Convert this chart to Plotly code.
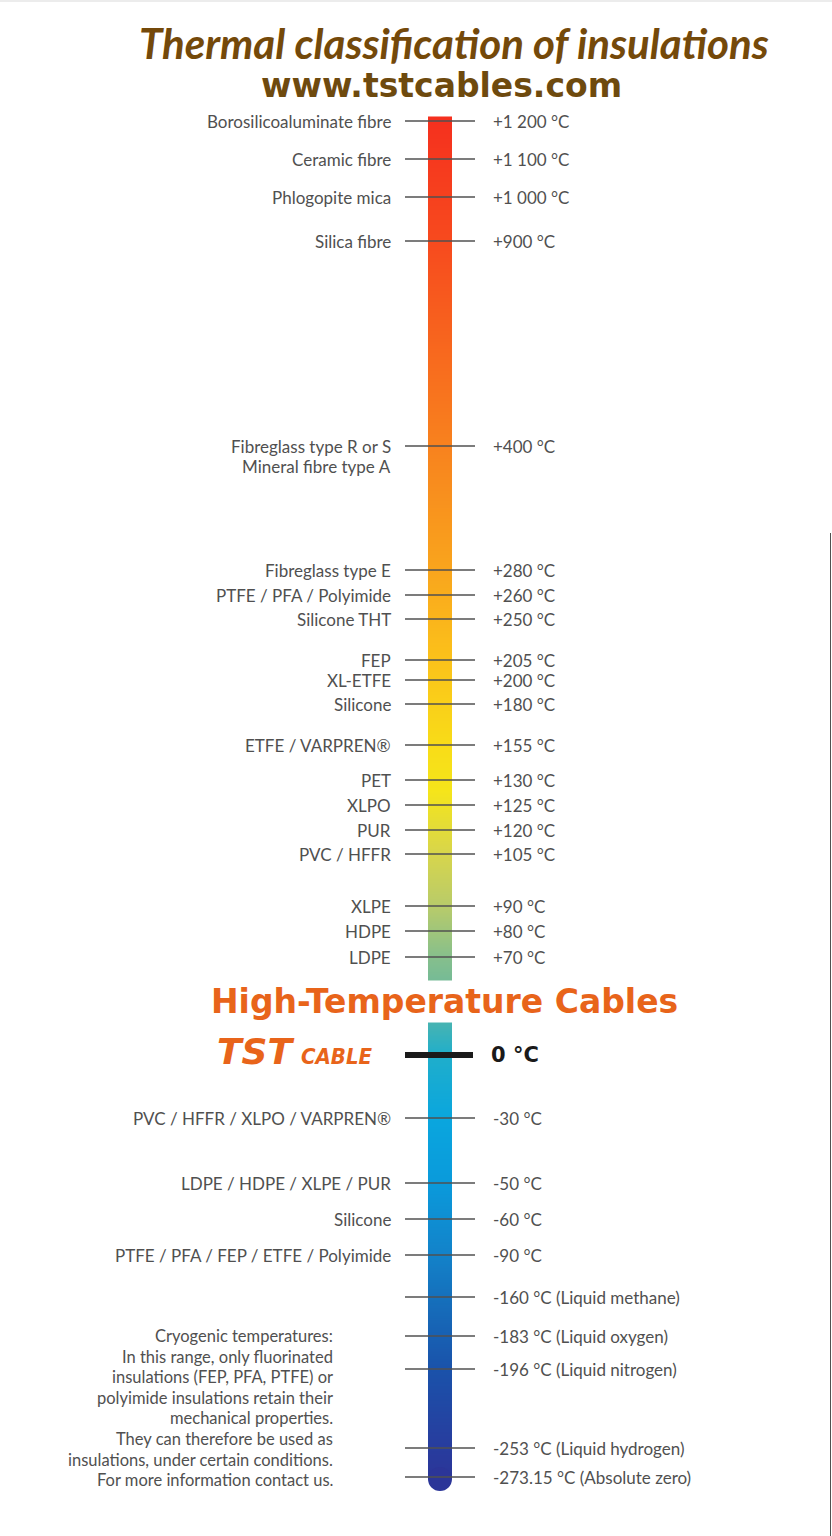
import plotly.graph_objects as go

# Chart values (schematic, so rows are not spaced by temperature)
temps = ["+1 200 °C", "+1 100 °C", "+1 000 °C", "+900 °C", "+400 °C",
         "+280 °C", "+260 °C", "+250 °C", "+205 °C", "+200 °C", "+180 °C",
         "+155 °C", "+130 °C", "+125 °C", "+120 °C", "+105 °C",
         "+90 °C", "+80 °C", "+70 °C",
         "-30 °C", "-50 °C", "-60 °C", "-90 °C",
         "-160 °C (Liquid methane)", "-183 °C (Liquid oxygen)",
         "-196 °C (Liquid nitrogen)", "-253 °C (Liquid hydrogen)",
         "-273.15 °C (Absolute zero)"]
materials = ["Borosilicoaluminate fibre", "Ceramic fibre", "Phlogopite mica", "Silica fibre",
             "Fibreglass type R or S<br>Mineral fibre type A",
             "Fibreglass type E", "PTFE / PFA / Polyimide", "Silicone THT", "FEP", "XL-ETFE",
             "Silicone", "ETFE / VARPREN®", "PET", "XLPO", "PUR", "PVC / HFFR",
             "XLPE", "HDPE", "LDPE",
             "PVC / HFFR / XLPO / VARPREN®", "LDPE / HDPE / XLPE / PUR", "Silicone",
             "PTFE / PFA / FEP / ETFE / Polyimide",
             "", "", "", "", ""]
row_y = [121, 159, 197, 241, 446,
         570, 595, 619, 660, 680, 704,
         745, 780, 805, 830, 854,
         906, 931, 957,
         1118, 1183, 1219, 1255,
         1297, 1336, 1369, 1448, 1477]
zero_label = "0 °C"
zero_y = 1055
cryo_note = ["Cryogenic temperatures:",
             "In this range, only fluorinated",
             "insulations (FEP, PFA, PTFE) or",
             "polyimide insulations retain their",
             "mechanical properties.",
             "They can therefore be used as",
             "insulations, under certain conditions.",
             "For more information contact us."]

W, H = 832, 1536
BAR_X, BAR_W = 440, 24
BAR_TOP, BAR_BOT = 117, 1479
GREY = "#505050"

# gradient of the thermometer bar: (row, colour)
grad = [(117, "#f5301e"), (241, "#f74a1e"), (446, "#f8821e"), (570, "#f9a51d"),
        (660, "#fbc21a"), (745, "#f8dc18"), (790, "#f5e51a"), (854, "#d7d54c"),
        (906, "#b8cb6a"), (957, "#86bf8c"), (985, "#72ba98"), (1020, "#4ab4b0"),
        (1055, "#1faecb"), (1118, "#0aa6de"), (1183, "#0a9adb"), (1255, "#1382c9"),
        (1297, "#1570bc"), (1369, "#1a52aa"), (1448, "#283c9e"), (1479, "#2b3598")]
colorscale = [[(r - BAR_TOP) / (BAR_BOT - BAR_TOP), c] for r, c in grad]

n = BAR_BOT - BAR_TOP + 1
fig = go.Figure(go.Heatmap(
    z=[[i / (n - 1)] for i in range(n)],
    x0=BAR_X, dx=BAR_W, y0=BAR_TOP, dy=1,
    colorscale=colorscale, showscale=False, hoverinfo="skip", zmin=0, zmax=1))

# rounded bottom of the bar
fig.add_shape(type="circle", x0=BAR_X - BAR_W / 2, x1=BAR_X + BAR_W / 2,
              y0=BAR_BOT - 12, y1=BAR_BOT + 12, fillcolor="#2b3598", line_width=0)

label_font = dict(family="Lato", size=17, color=GREY)

for t, m, y in zip(temps, materials, row_y):
    fig.add_shape(type="line", x0=405, x1=475, y0=y, y1=y,
                  line=dict(color=GREY, width=1.5))
    fig.add_annotation(x=491, y=y, text=t, showarrow=False, xanchor="left",
                       yanchor="middle", font=label_font)
    for k, part in enumerate(m.split("<br>")):
        if part:
            fig.add_annotation(x=393, y=y + k * 20, text=part, showarrow=False,
                               xanchor="right", yanchor="middle", font=label_font)

# 0 °C marker
fig.add_shape(type="line", x0=405, x1=473, y0=zero_y, y1=zero_y,
              line=dict(color="#1a1a1a", width=6))
fig.add_annotation(x=489, y=zero_y, text="<b>" + zero_label + "</b>", showarrow=False,
                   xanchor="left", yanchor="middle",
                   font=dict(family="DejaVu Sans", size=21, color="#1a1a1a"))

# cryogenic note, one line at a time
for k, line in enumerate(cryo_note):
    fig.add_annotation(x=335, y=1336 + k * 20.6, text=line, showarrow=False,
                       xanchor="right", yanchor="middle",
                       font=dict(family="Lato", size=16.5, color=GREY))

# titles
fig.add_annotation(x=454, y=43, text="<b><i>Thermal classification of insulations</i></b>",
                   showarrow=False, xanchor="center", yanchor="middle",
                   font=dict(family="Lato", size=42, color="#74490a", weight=900))
fig.add_annotation(x=441, y=85, text="<b>www.tstcables.com</b>", showarrow=False,
                   xanchor="center", yanchor="middle",
                   font=dict(family="DejaVu Sans", size=33, color="#6e4a0e"))
fig.add_annotation(x=444, y=1001, text="<b>High-Temperature Cables</b>", showarrow=False,
                   xanchor="center", yanchor="middle", bgcolor="white",
                   font=dict(family="DejaVu Sans", size=33, color="#e8641a"))
fig.add_annotation(x=296, y=1051, text="<b><i>TST</i></b>", showarrow=False,
                   xanchor="right", yanchor="middle",
                   font=dict(family="DejaVu Sans", size=36, color="#e8641a"))
fig.add_annotation(x=299, y=1056, text="<b><i>CABLE</i></b>", showarrow=False,
                   xanchor="left", yanchor="middle",
                   font=dict(family="DejaVu Sans Condensed", size=22, color="#e8641a"))

# faint frame edges seen in the reference
fig.add_shape(type="line", x0=830.5, x1=830.5, y0=533, y1=H, line=dict(color=GREY, width=1))
fig.add_shape(type="line", x0=0, x1=W, y0=1, y1=1, line=dict(color="#e6e6e6", width=1.5))

fig.update_xaxes(range=[0, W], visible=False, fixedrange=True)
fig.update_yaxes(range=[H, 0], visible=False, fixedrange=True)
fig.update_layout(width=W, height=H, margin=dict(l=0, r=0, t=0, b=0),
                  paper_bgcolor="white", plot_bgcolor="white", showlegend=False)

# the page's default body margin would push the figure 8px down and right
fig.write_html("out.html", config={"displayModeBar": False},
               post_script="document.body.style.margin='0';")
